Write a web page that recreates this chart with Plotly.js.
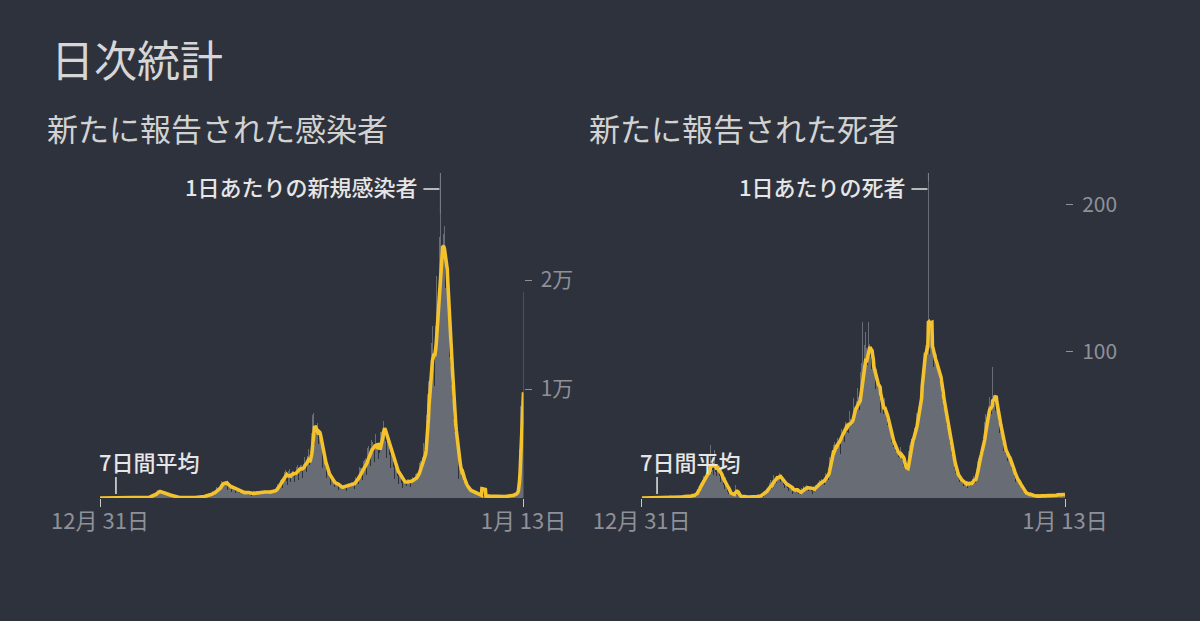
<!DOCTYPE html>
<html>
<head>
<meta charset="utf-8">
<script src="https://cdn.plot.ly/plotly-3.0.1.min.js"></script>
<style>
html,body{margin:0;padding:0;background:#2e323d;}
#chart{width:1200px;height:621px;}
</style>
</head>
<body>
<div id="chart"></div>
<script>
// Daily series, one row per week (Tue..Mon), starting 2019-12-31, ending 2022-01-13
const startDate = '2019-12-31';
const endDate = '2022-01-13';

const dailyCases = [
0,0,0,0,0,0,0, 0,0,0,0,0,0,0, 0,0,1,0,0,0,0, 0,0,1,1,0,1,0,
3,4,2,3,0,0,0, 0,2,0,0,0,0,1, 0,2,5,8,3,6,6, 6,12,7,9,13,12,14,
10,20,25,14,13,18,16, 22,33,21,59,23,32,34, 54,52,55,44,59,15,15, 43,44,41,43,53,34,42,
65,98,96,112,200,173,87, 225,266,235,351,368,383,254, 351,515,681,744,743,607,391, 457,549,587,576,584,556,373,
420,480,460,470,380,260,290, 320,300,230,290,260,310,200, 123,100,95,82,103,50,91, 80,55,98,57,44,33,31,
26,40,38,29,21,13,21, 36,38,50,40,52,34,37, 52,35,40,51,47,46,37, 40,53,41,57,48,72,54,
45,41,68,35,74,57,48, 64,96,110,102,92,115,86, 130,197,250,275,264,208,217, 207,213,355,430,385,408,253,
333,285,623,595,663,506,422, 631,795,980,780,772,839,598, 981,1264,1300,1580,1538,1331,960, 1237,1356,1484,1602,1565,1445,1023,
718,967,1178,1360,1227,1021,715, 584,1076,1013,1028,849,740,615, 495,889,869,674,847,643,440, 430,600,582,593,533,462,232,
340,642,620,647,652,438,259, 360,559,593,496,579,468,305, 214,310,484,562,645,482,347, 331,592,630,567,563,400,330,
492,593,651,599,574,463,353, 487,608,701,616,614,530,303, 470,617,596,748,558,488,480, 500,730,746,782,693,613,487,
605,831,1047,1090,1328,940,852, 1230,1553,1650,1709,1736,1439,950, 1702,2201,2388,2418,2596,2168,1518, 1228,1945,2506,2218,2684,2052,1428,
2035,2433,2515,2439,2508,2029,1504, 2027,2754,2811,3041,3031,2418,1680, 2420,3211,3052,2811,2992,2494,1809, 2738,3271,3744,3827,3205,2945,2397,
3600,3852,4520,3260,3040,3150,3320, 4920,6001,7570,8900,7790,6094,4875, 4537,5869,6604,7133,6901,5759,4925, 5318,5521,5702,5043,4717,3979,2764,
3857,3981,3548,3353,2825,2301,1795, 2326,2631,2576,2279,1875,1533,1215, 1567,1721,1883,1354,1357,1228,1026, 1308,1530,1404,1348,1291,1131,773,
778,1078,1085,1221,1044,841,725, 986,1180,1201,1151,1187,1066,645, 1121,1283,1329,1357,1310,1129,1053, 1015,1507,1542,1442,1468,1311,834,
1492,1919,2004,1814,1993,1780,1274, 2085,2841,2610,2728,2761,2473,1649, 2655,3440,3452,3452,3697,2778,2129, 3451,4573,4532,4802,4096,4094,2901,
4322,5291,5537,5115,4623,4600,3315, 5005,5849,4698,4760,5986,4430,3620, 3891,4111,4375,6051,7244,6053,4935, 6242,7057,7007,6266,6419,5240,3677,
5229,5719,5597,5076,4514,3962,2794, 4053,4556,4116,3624,3463,2843,1771, 2680,2954,2848,2657,2611,2063,1285, 2201,2347,1938,1999,2002,1385,938,
1421,1737,1713,1593,1545,1298,1076, 1357,1776,1625,1700,1608,1306,1020, 1578,1760,1868,1969,1796,1481,1024, 1773,2190,2279,2268,2220,1912,1506,
2370,3194,3420,3420,3100,2592,1991, 3763,5031,5392,4225,4058,3574,4692, 7629,9576,10699,10744,12341,10168,8392, 12015,14203,15263,15753,14472,12065,9001,
10300,15800,18881,20365,20151,17603,13838, 18895,23917,25156,25992,25492,22274,16728, 21571,24261,24968,24948,22751,19296,15116, 20000,20030,16750,16068,15838,12937,10400,
12148,12456,10389,9045,8224,7226,4171, 6040,6797,5685,5106,4560,4193,2220, 1767,2728,3232,3019,2631,2086,1142, 1990,1967,1576,1447,1229,1144,593,
1129,1087,877,791,763,669,377, 616,765,694,608,617,544,257, 383,469,447,320,346,282,154, 305,314,287,265,260,190,4300,
267,156,164,230,178,163,107, 163,196,216,203,196,132,78, 141,176,129,144,114,107,52, 78,81,96,145,132,111,74,
129,131,119,119,127,113,78, 125,153,158,166,140,117,85, 169,197,196,183,183,165,114, 241,217,263,283,303,224,181,
388,420,501,534,456,553,782, 1266,2638,4475,6214,8480,8249,6438, 6377,13244,18860
];

const dailyDeaths = [
0,0,0,0,0,0,0, 0,0,0,0,0,0,0, 0,0,0,0,0,0,0, 0,0,0,0,0,0,0,
0,0,0,0,0,0,0, 0,0,0,0,0,0,0, 0,0,1,0,0,0,0, 0,0,2,0,0,0,0,
0,1,0,1,0,1,0, 0,0,0,1,1,0,2, 0,1,2,1,0,1,2, 1,1,0,1,0,0,2,
1,2,2,1,1,3,1, 3,1,2,4,3,2,4, 6,8,5,9,8,10,9, 10,13,12,14,15,14,17,
12,18,17,19,20,15,17, 18,22,36,24,17,19,22, 16,19,33,24,18,15,12, 23,20,21,19,15,11,13,
19,16,12,11,9,8,6, 14,12,7,5,4,3,3, 4,3,5,2,2,1,2, 3,2,5,7,9,4,2,
3,1,2,0,1,1,1, 2,1,1,2,1,1,0, 1,0,1,0,0,2,0, 1,1,2,0,1,1,0,
1,0,1,1,2,1,0, 1,1,3,1,0,2,2, 2,3,2,4,1,3,5, 6,5,4,7,5,8,4,
9,10,12,8,6,10,12, 13,16,11,15,12,14,10, 18,15,14,12,17,16,11, 14,12,13,10,9,11,7,
12,11,9,8,7,8,5, 11,9,7,8,6,5,3, 4,7,8,6,5,6,4, 6,4,5,3,4,4,2,
5,7,6,4,8,5,6, 7,8,6,9,6,7,5, 8,7,9,6,5,6,3, 7,8,6,7,9,8,6,
8,10,9,11,12,10,9, 11,13,12,10,14,12,9, 15,17,16,13,18,14,12, 24,28,33,26,30,25,31,
36,36,32,38,41,30,33, 35,41,45,38,42,36,30, 45,47,49,44,50,41,38, 53,52,54,51,47,45,44,
56,59,47,54,51,49,50, 59,68,65,62,58,61,55, 66,75,72,69,63,60,58, 86,92,88,120,81,79,70,
104,113,98,102,94,91,85, 120,105,124,96,89,88,80, 96,92,87,84,75,74,66, 88,83,79,77,71,68,62,
58,67,64,66,60,57,52, 68,61,59,54,51,50,42, 55,50,49,44,41,38,34, 41,38,35,39,33,32,30,
36,29,31,28,30,27,24, 35,34,29,26,24,22,20, 20,18,22,19,23,21,18, 32,35,36,38,36,40,42,
41,45,40,48,43,46,47, 58,61,56,65,62,60,64, 70,75,80,120,88,90,84, 99,108,104,113,106,99,93,
216,110,98,105,115,101,93, 104,96,89,99,93,91,85, 98,86,91,82,87,80,83, 79,75,71,68,66,62,57,
62,58,55,53,50,48,45, 46,42,38,40,35,33,30, 28,25,24,22,20,18,17, 17,16,15,14,13,12,11,
14,12,13,11,10,9,8, 11,12,10,9,8,13,7, 10,9,11,12,8,10,9, 13,14,15,13,12,11,10,
20,22,25,28,27,30,25, 29,33,35,39,36,38,31, 48,52,57,58,55,60,50, 59,63,69,66,61,60,57,
62,89,70,67,65,71,59, 66,63,58,55,52,49,44, 48,45,42,40,38,36,32, 36,33,30,28,31,27,25,
30,28,27,25,24,22,20, 22,20,18,16,14,12,11, 16,14,12,11,10,9,8, 9,8,7,6,5,4,4,
4,3,4,3,2,3,2, 3,2,3,2,3,1,2, 2,1,2,1,2,1,1, 2,1,1,2,1,1,1,
2,1,2,1,1,2,1, 2,1,2,1,2,1,1, 3,2,1,2,1,2,1, 2,3,2,1,2,1,2,
3,2,2,3,2,1,2, 2,3,2,3,2,2,1, 3,2,3
];

const casesTickVals = [10000, 20000];
const casesTickText = ['1万', '2万'];
const deathsTickVals = [100, 200];
const deathsTickText = ['100', '200'];
const xTickText = ['12月 31日', '1月 13日'];

const titleText = '日次統計';
const casesTitle = '新たに報告された感染者';
const deathsTitle = '新たに報告された死者';
const casesLabel = '1日あたりの新規感染者';
const deathsLabel = '1日あたりの死者';
const avgLabel = '7日間平均';
const avgLeaderDate = ['2020-01-28', '2020-01-27'];

// ---------- derived ----------
const t0 = Date.parse(startDate + 'T00:00:00Z');
const dates = dailyCases.map((_, i) => new Date(t0 + i * 86400000).toISOString().slice(0, 10));
function avg7(a) {
  return a.map((_, i) => {
    let s = 0, n = 0;
    for (let j = Math.max(0, i - 6); j <= i; j++) { s += a[j]; n++; }
    return s / n;
  });
}
function argmax(a) { let k = 0; a.forEach((v, i) => { if (v > a[k]) k = i; }); return k; }

const FONT = '"Noto Sans CJK JP", "Noto Sans", sans-serif';
const BG = '#2e323d';
const BAR = '#686c75';
const YEL = '#f3c22c';
const TICKC = '#8e9199';

// plot geometry (pixels)
const W = 1200, H = 621;
const plotTop = 150, plotBottom = 498;
const yDom = [(H - plotBottom) / H, (H - plotTop) / H];
const casesMax = (plotBottom - plotTop) / 109 * 10000;
const deathsMax = (plotBottom - plotTop) / 146.7 * 100;
const leaderTopPx = 173;
const py = px => (H - px) / H;

const iC = argmax(dailyCases), iD = argmax(dailyDeaths);

const traces = [
  {type: 'bar', x: dates, y: dailyCases, xaxis: 'x', yaxis: 'y', marker: {color: BAR, line: {width: 0}}, hoverinfo: 'skip'},
  {type: 'scatter', mode: 'lines', x: dates, y: avg7(dailyCases), xaxis: 'x', yaxis: 'y', line: {color: YEL, width: 3.6}, hoverinfo: 'skip'},
  {type: 'bar', x: dates, y: dailyDeaths, xaxis: 'x2', yaxis: 'y2', marker: {color: BAR, line: {width: 0}}, hoverinfo: 'skip'},
  {type: 'scatter', mode: 'lines', x: dates, y: avg7(dailyDeaths), xaxis: 'x2', yaxis: 'y2', line: {color: YEL, width: 3.6}, hoverinfo: 'skip'}
];

function xAxis(dom, anchor) {
  return {
    domain: dom, anchor: anchor, type: 'date', range: [startDate, endDate],
    tickvals: [startDate, endDate], ticktext: xTickText,
    ticks: 'outside', ticklen: 8, tickwidth: 1, tickcolor: '#c8c8c8', ticklabelstandoff: -4,
    showgrid: false, zeroline: false, showline: false, fixedrange: true,
    tickfont: {family: FONT, size: 22, color: TICKC}
  };
}
function yAxis(anchor, max, vals, text) {
  return {
    domain: yDom, anchor: anchor, side: 'right', range: [0, max],
    tickvals: vals, ticktext: text,
    ticks: 'outside', ticklen: 7, tickwidth: 1, tickcolor: TICKC, ticklabelstandoff: 5,
    showgrid: false, zeroline: false, showline: false, fixedrange: true,
    tickfont: {family: FONT, size: 21, color: TICKC}
  };
}

const annFont = (size, color, weight) => ({family: FONT, size: size, color: color, weight: weight || 'normal'});

const layout = {
  width: W, height: H, margin: {l: 0, r: 0, t: 0, b: 0},
  paper_bgcolor: BG, plot_bgcolor: BG, showlegend: false, bargap: 0, hovermode: false,
  xaxis: xAxis([100 / W, 523.5 / W], 'y'),
  yaxis: yAxis('x', casesMax, casesTickVals, casesTickText),
  xaxis2: xAxis([641.7 / W, 1065 / W], 'y2'),
  yaxis2: yAxis('x2', deathsMax, deathsTickVals, deathsTickText),
  annotations: [
    {text: titleText, xref: 'paper', yref: 'paper', x: 49 / W, y: py(58), xanchor: 'left', yanchor: 'middle', showarrow: false, font: annFont(43, '#d6d6d6')},
    {text: casesTitle, xref: 'paper', yref: 'paper', x: 45 / W, y: py(127), xanchor: 'left', yanchor: 'middle', showarrow: false, font: annFont(31, '#d2d2d2')},
    {text: deathsTitle, xref: 'paper', yref: 'paper', x: 587 / W, y: py(127), xanchor: 'left', yanchor: 'middle', showarrow: false, font: annFont(31, '#d2d2d2')},
    {text: casesLabel, xref: 'x', yref: 'paper', x: dates[iC], xshift: -20, y: py(186), xanchor: 'right', yanchor: 'middle', showarrow: false, font: annFont(22, '#e6e6e6', 500)},
    {text: deathsLabel, xref: 'x2', yref: 'paper', x: dates[iD], xshift: -20, y: py(186), xanchor: 'right', yanchor: 'middle', showarrow: false, font: annFont(22, '#e6e6e6', 500)},
    {text: avgLabel, xref: 'paper', yref: 'paper', x: 97 / W, y: py(461), xanchor: 'left', yanchor: 'middle', showarrow: false, font: annFont(22, '#e6e6e6', 500)},
    {text: avgLabel, xref: 'paper', yref: 'paper', x: 638 / W, y: py(461), xanchor: 'left', yanchor: 'middle', showarrow: false, font: annFont(22, '#e6e6e6', 500)}
  ],
  shapes: [
    {type: 'line', xref: 'x', yref: 'y', x0: dates[iC], x1: dates[iC], y0: dailyCases[iC], y1: casesMax * (plotBottom - leaderTopPx) / (plotBottom - plotTop), line: {color: '#80848c', width: 1}},
    {type: 'line', xref: 'x2', yref: 'y2', x0: dates[iD], x1: dates[iD], y0: dailyDeaths[iD], y1: deathsMax * (plotBottom - leaderTopPx) / (plotBottom - plotTop), line: {color: '#80848c', width: 1}},
    {type: 'line', xref: 'x', xsizemode: 'pixel', xanchor: dates[iC], x0: -17, x1: -1, yref: 'paper', y0: py(189), y1: py(189), line: {color: '#e6e6e6', width: 1.5}},
    {type: 'line', xref: 'x2', xsizemode: 'pixel', xanchor: dates[iD], x0: -17, x1: -1, yref: 'paper', y0: py(189), y1: py(189), line: {color: '#e6e6e6', width: 1.5}},
    {type: 'line', xref: 'x', yref: 'paper', x0: avgLeaderDate[0], x1: avgLeaderDate[0], y0: py(494), y1: py(477), line: {color: '#e6e6e6', width: 1.5}},
    {type: 'line', xref: 'x2', yref: 'paper', x0: avgLeaderDate[1], x1: avgLeaderDate[1], y0: py(494), y1: py(477), line: {color: '#e6e6e6', width: 1.5}}
  ]
};

Plotly.newPlot('chart', traces, layout, {staticPlot: true, displayModeBar: false});
</script>
</body>
</html>
